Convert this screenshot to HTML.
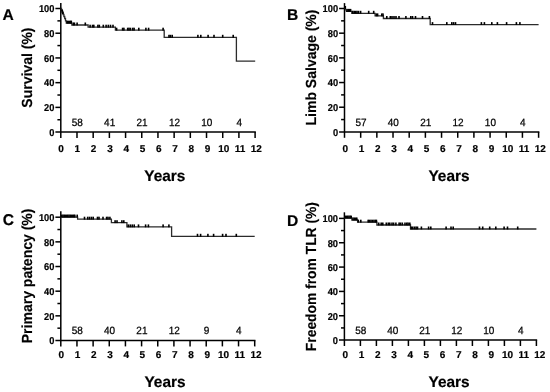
<!DOCTYPE html>
<html><head><meta charset="utf-8"><title>Kaplan-Meier curves</title>
<style>
html,body{margin:0;padding:0;background:#fff;}
body{width:550px;height:392px;overflow:hidden;}
svg{display:block;}
text{font-family:"Liberation Sans", Arial, Helvetica, sans-serif;fill:#000;text-rendering:geometricPrecision;}
.tk{font-size:10.0px;font-weight:bold;stroke:#000;stroke-width:0.2px;}
.rk{font-size:10.5px;stroke:#000;stroke-width:0.25px;}
.yl{font-size:14.6px;font-weight:bold;stroke:#000;stroke-width:0.15px;}
.yr{font-size:15.4px;font-weight:bold;stroke:#000;stroke-width:0.2px;}
.lt{font-size:15.6px;font-weight:bold;stroke:#000;stroke-width:0.2px;}
</style></head>
<body>
<svg width="550" height="392" viewBox="0 0 550 392">
<rect x="0" y="0" width="550" height="392" fill="#fff"/>
<line x1="60.80" y1="3.10" x2="60.80" y2="138.00" stroke="#000" stroke-width="1.5"/>
<line x1="55.40" y1="132.10" x2="255.85" y2="132.10" stroke="#000" stroke-width="1.5"/>
<text transform="translate(54.40,135.90) scale(0.93,1)" class="tk" text-anchor="end">0</text>
<line x1="57.40" y1="119.74" x2="60.80" y2="119.74" stroke="#000" stroke-width="1.5"/>
<line x1="55.40" y1="107.38" x2="60.80" y2="107.38" stroke="#000" stroke-width="1.5"/>
<text transform="translate(54.40,111.18) scale(0.93,1)" class="tk" text-anchor="end">20</text>
<line x1="57.40" y1="95.02" x2="60.80" y2="95.02" stroke="#000" stroke-width="1.5"/>
<line x1="55.40" y1="82.66" x2="60.80" y2="82.66" stroke="#000" stroke-width="1.5"/>
<text transform="translate(54.40,86.46) scale(0.93,1)" class="tk" text-anchor="end">40</text>
<line x1="57.40" y1="70.30" x2="60.80" y2="70.30" stroke="#000" stroke-width="1.5"/>
<line x1="55.40" y1="57.94" x2="60.80" y2="57.94" stroke="#000" stroke-width="1.5"/>
<text transform="translate(54.40,61.74) scale(0.93,1)" class="tk" text-anchor="end">60</text>
<line x1="57.40" y1="45.58" x2="60.80" y2="45.58" stroke="#000" stroke-width="1.5"/>
<line x1="55.40" y1="33.22" x2="60.80" y2="33.22" stroke="#000" stroke-width="1.5"/>
<text transform="translate(54.40,37.02) scale(0.93,1)" class="tk" text-anchor="end">80</text>
<line x1="57.40" y1="20.86" x2="60.80" y2="20.86" stroke="#000" stroke-width="1.5"/>
<line x1="55.40" y1="8.50" x2="60.80" y2="8.50" stroke="#000" stroke-width="1.5"/>
<text transform="translate(54.40,12.30) scale(0.93,1)" class="tk" text-anchor="end">100</text>
<text transform="translate(61.10,152.30) scale(1.0,1)" class="tk" text-anchor="middle">0</text>
<line x1="76.99" y1="132.10" x2="76.99" y2="138.00" stroke="#000" stroke-width="1.5"/>
<text transform="translate(77.37,152.30) scale(1.0,1)" class="tk" text-anchor="middle">1</text>
<line x1="93.18" y1="132.10" x2="93.18" y2="138.00" stroke="#000" stroke-width="1.5"/>
<text transform="translate(93.64,152.30) scale(1.0,1)" class="tk" text-anchor="middle">2</text>
<line x1="109.38" y1="132.10" x2="109.38" y2="138.00" stroke="#000" stroke-width="1.5"/>
<text transform="translate(109.91,152.30) scale(1.0,1)" class="tk" text-anchor="middle">3</text>
<line x1="125.57" y1="132.10" x2="125.57" y2="138.00" stroke="#000" stroke-width="1.5"/>
<text transform="translate(126.18,152.30) scale(1.0,1)" class="tk" text-anchor="middle">4</text>
<line x1="141.76" y1="132.10" x2="141.76" y2="138.00" stroke="#000" stroke-width="1.5"/>
<text transform="translate(142.45,152.30) scale(1.0,1)" class="tk" text-anchor="middle">5</text>
<line x1="157.95" y1="132.10" x2="157.95" y2="138.00" stroke="#000" stroke-width="1.5"/>
<text transform="translate(158.72,152.30) scale(1.0,1)" class="tk" text-anchor="middle">6</text>
<line x1="174.14" y1="132.10" x2="174.14" y2="138.00" stroke="#000" stroke-width="1.5"/>
<text transform="translate(174.99,152.30) scale(1.0,1)" class="tk" text-anchor="middle">7</text>
<line x1="190.33" y1="132.10" x2="190.33" y2="138.00" stroke="#000" stroke-width="1.5"/>
<text transform="translate(191.26,152.30) scale(1.0,1)" class="tk" text-anchor="middle">8</text>
<line x1="206.52" y1="132.10" x2="206.52" y2="138.00" stroke="#000" stroke-width="1.5"/>
<text transform="translate(207.53,152.30) scale(1.0,1)" class="tk" text-anchor="middle">9</text>
<line x1="222.72" y1="132.10" x2="222.72" y2="138.00" stroke="#000" stroke-width="1.5"/>
<text transform="translate(223.80,152.30) scale(1.0,1)" class="tk" text-anchor="middle">10</text>
<line x1="238.91" y1="132.10" x2="238.91" y2="138.00" stroke="#000" stroke-width="1.5"/>
<text transform="translate(240.07,152.30) scale(1.0,1)" class="tk" text-anchor="middle">11</text>
<line x1="255.10" y1="132.10" x2="255.10" y2="138.00" stroke="#000" stroke-width="1.5"/>
<text transform="translate(256.34,152.30) scale(1.0,1)" class="tk" text-anchor="middle">12</text>
<text transform="translate(77.29,126.25) scale(0.95,1)" class="rk" text-anchor="middle">58</text>
<text transform="translate(109.67,126.25) scale(0.95,1)" class="rk" text-anchor="middle">41</text>
<text transform="translate(142.06,126.25) scale(0.95,1)" class="rk" text-anchor="middle">21</text>
<text transform="translate(174.44,126.25) scale(0.95,1)" class="rk" text-anchor="middle">12</text>
<text transform="translate(206.82,126.25) scale(0.95,1)" class="rk" text-anchor="middle">10</text>
<text transform="translate(239.21,126.25) scale(0.95,1)" class="rk" text-anchor="middle">4</text>
<text x="2.60" y="19.90" class="lt">A</text>
<text transform="translate(32.00,67.60) rotate(-90) scale(0.96,1)" class="yl" text-anchor="middle">Survival (%)</text>
<text x="164.80" y="181.00" class="yr" text-anchor="middle">Years</text>
<path d="M60.80,8.50 L61.50,8.50 L61.50,10.30 L62.30,10.30 L62.30,12.40 L63.10,12.40 L63.10,14.50 L63.90,14.50 L63.90,16.50 L64.70,16.50 L64.70,18.50 L65.50,18.50 L65.50,20.80 L66.30,20.80 L66.30,23.20 L66.30,23.20 L71.90,23.20 L71.90,25.00 L88.10,25.00 L88.10,27.20 L115.40,27.20 L115.40,30.20 L164.20,30.20 L164.20,37.30 L236.40,37.30 L236.40,61.10 L255.20,61.10" fill="none" stroke="#2b2b2b" stroke-width="1.3" stroke-linejoin="miter"/>
<line x1="61.9" y1="9.6" x2="63.0" y2="14.0" stroke="#000" stroke-width="1.9"/>
<rect x="66.40" y="20.70" width="1.6" height="2.90" fill="#000"/>
<rect x="67.60" y="20.70" width="1.6" height="2.90" fill="#000"/>
<rect x="68.80" y="20.70" width="1.6" height="2.90" fill="#000"/>
<rect x="70.00" y="20.70" width="1.6" height="2.90" fill="#000"/>
<rect x="70.50" y="20.70" width="1.6" height="2.90" fill="#000"/>
<rect x="72.60" y="22.50" width="1.6" height="2.90" fill="#000"/>
<rect x="73.60" y="22.50" width="1.6" height="2.90" fill="#000"/>
<rect x="76.30" y="22.50" width="1.6" height="2.90" fill="#000"/>
<rect x="84.50" y="22.50" width="1.6" height="2.90" fill="#000"/>
<rect x="89.30" y="24.70" width="1.6" height="2.90" fill="#000"/>
<rect x="91.70" y="24.70" width="1.6" height="2.90" fill="#000"/>
<rect x="93.00" y="24.70" width="1.6" height="2.90" fill="#000"/>
<rect x="97.10" y="24.70" width="1.6" height="2.90" fill="#000"/>
<rect x="98.50" y="24.70" width="1.6" height="2.90" fill="#000"/>
<rect x="102.50" y="24.70" width="1.6" height="2.90" fill="#000"/>
<rect x="105.30" y="24.70" width="1.6" height="2.90" fill="#000"/>
<rect x="107.50" y="24.70" width="1.6" height="2.90" fill="#000"/>
<rect x="109.70" y="24.70" width="1.6" height="2.90" fill="#000"/>
<rect x="112.20" y="24.70" width="1.6" height="2.90" fill="#000"/>
<rect x="115.80" y="27.70" width="1.6" height="2.90" fill="#000"/>
<rect x="121.80" y="27.70" width="1.6" height="2.90" fill="#000"/>
<rect x="123.10" y="27.70" width="1.6" height="2.90" fill="#000"/>
<rect x="126.90" y="27.70" width="1.6" height="2.90" fill="#000"/>
<rect x="128.20" y="27.70" width="1.6" height="2.90" fill="#000"/>
<rect x="129.60" y="27.70" width="1.6" height="2.90" fill="#000"/>
<rect x="131.90" y="27.70" width="1.6" height="2.90" fill="#000"/>
<rect x="133.30" y="27.70" width="1.6" height="2.90" fill="#000"/>
<rect x="138.00" y="27.70" width="1.6" height="2.90" fill="#000"/>
<rect x="145.10" y="27.70" width="1.6" height="2.90" fill="#000"/>
<rect x="147.80" y="27.70" width="1.6" height="2.90" fill="#000"/>
<rect x="162.30" y="27.70" width="1.6" height="2.90" fill="#000"/>
<rect x="168.20" y="34.80" width="1.6" height="2.90" fill="#000"/>
<rect x="169.60" y="34.80" width="1.6" height="2.90" fill="#000"/>
<rect x="171.40" y="34.80" width="1.6" height="2.90" fill="#000"/>
<rect x="197.10" y="34.80" width="1.6" height="2.90" fill="#000"/>
<rect x="200.00" y="34.80" width="1.6" height="2.90" fill="#000"/>
<rect x="207.30" y="34.80" width="1.6" height="2.90" fill="#000"/>
<rect x="213.20" y="34.80" width="1.6" height="2.90" fill="#000"/>
<rect x="221.90" y="34.80" width="1.6" height="2.90" fill="#000"/>
<rect x="232.40" y="34.80" width="1.6" height="2.90" fill="#000"/>
<line x1="344.50" y1="3.10" x2="344.50" y2="137.80" stroke="#000" stroke-width="1.5"/>
<line x1="339.10" y1="131.90" x2="539.35" y2="131.90" stroke="#000" stroke-width="1.5"/>
<text transform="translate(338.10,135.70) scale(0.93,1)" class="tk" text-anchor="end">0</text>
<line x1="341.10" y1="119.56" x2="344.50" y2="119.56" stroke="#000" stroke-width="1.5"/>
<line x1="339.10" y1="107.22" x2="344.50" y2="107.22" stroke="#000" stroke-width="1.5"/>
<text transform="translate(338.10,111.02) scale(0.93,1)" class="tk" text-anchor="end">20</text>
<line x1="341.10" y1="94.88" x2="344.50" y2="94.88" stroke="#000" stroke-width="1.5"/>
<line x1="339.10" y1="82.54" x2="344.50" y2="82.54" stroke="#000" stroke-width="1.5"/>
<text transform="translate(338.10,86.34) scale(0.93,1)" class="tk" text-anchor="end">40</text>
<line x1="341.10" y1="70.20" x2="344.50" y2="70.20" stroke="#000" stroke-width="1.5"/>
<line x1="339.10" y1="57.86" x2="344.50" y2="57.86" stroke="#000" stroke-width="1.5"/>
<text transform="translate(338.10,61.66) scale(0.93,1)" class="tk" text-anchor="end">60</text>
<line x1="341.10" y1="45.52" x2="344.50" y2="45.52" stroke="#000" stroke-width="1.5"/>
<line x1="339.10" y1="33.18" x2="344.50" y2="33.18" stroke="#000" stroke-width="1.5"/>
<text transform="translate(338.10,36.98) scale(0.93,1)" class="tk" text-anchor="end">80</text>
<line x1="341.10" y1="20.84" x2="344.50" y2="20.84" stroke="#000" stroke-width="1.5"/>
<line x1="339.10" y1="8.50" x2="344.50" y2="8.50" stroke="#000" stroke-width="1.5"/>
<text transform="translate(338.10,12.30) scale(0.93,1)" class="tk" text-anchor="end">100</text>
<text transform="translate(345.35,152.30) scale(1.0,1)" class="tk" text-anchor="middle">0</text>
<line x1="360.68" y1="131.90" x2="360.68" y2="137.80" stroke="#000" stroke-width="1.5"/>
<text transform="translate(361.59,152.30) scale(1.0,1)" class="tk" text-anchor="middle">1</text>
<line x1="376.85" y1="131.90" x2="376.85" y2="137.80" stroke="#000" stroke-width="1.5"/>
<text transform="translate(377.83,152.30) scale(1.0,1)" class="tk" text-anchor="middle">2</text>
<line x1="393.02" y1="131.90" x2="393.02" y2="137.80" stroke="#000" stroke-width="1.5"/>
<text transform="translate(394.07,152.30) scale(1.0,1)" class="tk" text-anchor="middle">3</text>
<line x1="409.20" y1="131.90" x2="409.20" y2="137.80" stroke="#000" stroke-width="1.5"/>
<text transform="translate(410.31,152.30) scale(1.0,1)" class="tk" text-anchor="middle">4</text>
<line x1="425.38" y1="131.90" x2="425.38" y2="137.80" stroke="#000" stroke-width="1.5"/>
<text transform="translate(426.55,152.30) scale(1.0,1)" class="tk" text-anchor="middle">5</text>
<line x1="441.55" y1="131.90" x2="441.55" y2="137.80" stroke="#000" stroke-width="1.5"/>
<text transform="translate(442.79,152.30) scale(1.0,1)" class="tk" text-anchor="middle">6</text>
<line x1="457.73" y1="131.90" x2="457.73" y2="137.80" stroke="#000" stroke-width="1.5"/>
<text transform="translate(459.03,152.30) scale(1.0,1)" class="tk" text-anchor="middle">7</text>
<line x1="473.90" y1="131.90" x2="473.90" y2="137.80" stroke="#000" stroke-width="1.5"/>
<text transform="translate(475.27,152.30) scale(1.0,1)" class="tk" text-anchor="middle">8</text>
<line x1="490.08" y1="131.90" x2="490.08" y2="137.80" stroke="#000" stroke-width="1.5"/>
<text transform="translate(491.51,152.30) scale(1.0,1)" class="tk" text-anchor="middle">9</text>
<line x1="506.25" y1="131.90" x2="506.25" y2="137.80" stroke="#000" stroke-width="1.5"/>
<text transform="translate(507.75,152.30) scale(1.0,1)" class="tk" text-anchor="middle">10</text>
<line x1="522.42" y1="131.90" x2="522.42" y2="137.80" stroke="#000" stroke-width="1.5"/>
<text transform="translate(523.99,152.30) scale(1.0,1)" class="tk" text-anchor="middle">11</text>
<line x1="538.60" y1="131.90" x2="538.60" y2="137.80" stroke="#000" stroke-width="1.5"/>
<text transform="translate(540.23,152.30) scale(1.0,1)" class="tk" text-anchor="middle">12</text>
<text transform="translate(360.98,126.25) scale(0.95,1)" class="rk" text-anchor="middle">57</text>
<text transform="translate(393.32,126.25) scale(0.95,1)" class="rk" text-anchor="middle">40</text>
<text transform="translate(425.68,126.25) scale(0.95,1)" class="rk" text-anchor="middle">21</text>
<text transform="translate(458.03,126.25) scale(0.95,1)" class="rk" text-anchor="middle">12</text>
<text transform="translate(490.38,126.25) scale(0.95,1)" class="rk" text-anchor="middle">10</text>
<text transform="translate(522.72,126.25) scale(0.95,1)" class="rk" text-anchor="middle">4</text>
<text x="287.00" y="19.60" class="lt">B</text>
<text transform="translate(316.00,67.50) rotate(-90) scale(0.96,1)" class="yl" text-anchor="middle">Limb Salvage (%)</text>
<text x="449.00" y="181.00" class="yr" text-anchor="middle">Years</text>
<path d="M344.50,8.50 L345.40,8.50 L346.00,10.40 L346.40,11.40 L346.40,11.40 L351.80,11.40 L351.80,13.30 L375.10,13.30 L375.10,15.90 L383.40,15.90 L383.40,18.50 L430.20,18.50 L430.20,24.60 L538.60,24.60" fill="none" stroke="#2b2b2b" stroke-width="1.3" stroke-linejoin="miter"/>
<rect x="344.7" y="6.0" width="1.4" height="2.9" fill="#000"/>
<rect x="346.20" y="8.90" width="1.6" height="2.90" fill="#000"/>
<rect x="347.40" y="8.90" width="1.6" height="2.90" fill="#000"/>
<rect x="348.60" y="8.90" width="1.6" height="2.90" fill="#000"/>
<rect x="349.80" y="8.90" width="1.6" height="2.90" fill="#000"/>
<rect x="352.00" y="10.80" width="1.6" height="2.90" fill="#000"/>
<rect x="353.40" y="10.80" width="1.6" height="2.90" fill="#000"/>
<rect x="354.80" y="10.80" width="1.6" height="2.90" fill="#000"/>
<rect x="356.20" y="10.80" width="1.6" height="2.90" fill="#000"/>
<rect x="357.70" y="10.80" width="1.6" height="2.90" fill="#000"/>
<rect x="359.80" y="10.80" width="1.6" height="2.90" fill="#000"/>
<rect x="367.90" y="10.80" width="1.6" height="2.90" fill="#000"/>
<rect x="372.90" y="10.80" width="1.6" height="2.90" fill="#000"/>
<rect x="375.60" y="13.40" width="1.6" height="2.90" fill="#000"/>
<rect x="376.80" y="13.40" width="1.6" height="2.90" fill="#000"/>
<rect x="381.00" y="13.40" width="1.6" height="2.90" fill="#000"/>
<rect x="382.20" y="13.40" width="1.6" height="2.90" fill="#000"/>
<rect x="386.00" y="16.00" width="1.6" height="2.90" fill="#000"/>
<rect x="389.50" y="16.00" width="1.6" height="2.90" fill="#000"/>
<rect x="391.20" y="16.00" width="1.6" height="2.90" fill="#000"/>
<rect x="393.20" y="16.00" width="1.6" height="2.90" fill="#000"/>
<rect x="395.20" y="16.00" width="1.6" height="2.90" fill="#000"/>
<rect x="398.20" y="16.00" width="1.6" height="2.90" fill="#000"/>
<rect x="405.10" y="16.00" width="1.6" height="2.90" fill="#000"/>
<rect x="410.00" y="16.00" width="1.6" height="2.90" fill="#000"/>
<rect x="411.70" y="16.00" width="1.6" height="2.90" fill="#000"/>
<rect x="414.70" y="16.00" width="1.6" height="2.90" fill="#000"/>
<rect x="421.70" y="16.00" width="1.6" height="2.90" fill="#000"/>
<rect x="428.60" y="16.00" width="1.6" height="2.90" fill="#000"/>
<rect x="431.70" y="22.10" width="1.6" height="2.90" fill="#000"/>
<rect x="446.00" y="22.10" width="1.6" height="2.90" fill="#000"/>
<rect x="451.00" y="22.10" width="1.6" height="2.90" fill="#000"/>
<rect x="452.80" y="22.10" width="1.6" height="2.90" fill="#000"/>
<rect x="454.70" y="22.10" width="1.6" height="2.90" fill="#000"/>
<rect x="480.60" y="22.10" width="1.6" height="2.90" fill="#000"/>
<rect x="483.60" y="22.10" width="1.6" height="2.90" fill="#000"/>
<rect x="491.00" y="22.10" width="1.6" height="2.90" fill="#000"/>
<rect x="496.60" y="22.10" width="1.6" height="2.90" fill="#000"/>
<rect x="505.80" y="22.10" width="1.6" height="2.90" fill="#000"/>
<rect x="515.60" y="22.10" width="1.6" height="2.90" fill="#000"/>
<rect x="519.10" y="22.10" width="1.6" height="2.90" fill="#000"/>
<line x1="60.80" y1="211.30" x2="60.80" y2="346.40" stroke="#000" stroke-width="1.5"/>
<line x1="55.40" y1="340.50" x2="255.45" y2="340.50" stroke="#000" stroke-width="1.5"/>
<text transform="translate(54.40,344.30) scale(0.93,1)" class="tk" text-anchor="end">0</text>
<line x1="57.40" y1="328.17" x2="60.80" y2="328.17" stroke="#000" stroke-width="1.5"/>
<line x1="55.40" y1="315.84" x2="60.80" y2="315.84" stroke="#000" stroke-width="1.5"/>
<text transform="translate(54.40,319.64) scale(0.93,1)" class="tk" text-anchor="end">20</text>
<line x1="57.40" y1="303.51" x2="60.80" y2="303.51" stroke="#000" stroke-width="1.5"/>
<line x1="55.40" y1="291.18" x2="60.80" y2="291.18" stroke="#000" stroke-width="1.5"/>
<text transform="translate(54.40,294.98) scale(0.93,1)" class="tk" text-anchor="end">40</text>
<line x1="57.40" y1="278.85" x2="60.80" y2="278.85" stroke="#000" stroke-width="1.5"/>
<line x1="55.40" y1="266.52" x2="60.80" y2="266.52" stroke="#000" stroke-width="1.5"/>
<text transform="translate(54.40,270.32) scale(0.93,1)" class="tk" text-anchor="end">60</text>
<line x1="57.40" y1="254.19" x2="60.80" y2="254.19" stroke="#000" stroke-width="1.5"/>
<line x1="55.40" y1="241.86" x2="60.80" y2="241.86" stroke="#000" stroke-width="1.5"/>
<text transform="translate(54.40,245.66) scale(0.93,1)" class="tk" text-anchor="end">80</text>
<line x1="57.40" y1="229.53" x2="60.80" y2="229.53" stroke="#000" stroke-width="1.5"/>
<line x1="55.40" y1="217.20" x2="60.80" y2="217.20" stroke="#000" stroke-width="1.5"/>
<text transform="translate(54.40,221.00) scale(0.93,1)" class="tk" text-anchor="end">100</text>
<text transform="translate(61.30,358.00) scale(1.0,1)" class="tk" text-anchor="middle">0</text>
<line x1="76.96" y1="340.50" x2="76.96" y2="346.40" stroke="#000" stroke-width="1.5"/>
<text transform="translate(77.52,358.00) scale(1.0,1)" class="tk" text-anchor="middle">1</text>
<line x1="93.12" y1="340.50" x2="93.12" y2="346.40" stroke="#000" stroke-width="1.5"/>
<text transform="translate(93.74,358.00) scale(1.0,1)" class="tk" text-anchor="middle">2</text>
<line x1="109.27" y1="340.50" x2="109.27" y2="346.40" stroke="#000" stroke-width="1.5"/>
<text transform="translate(109.96,358.00) scale(1.0,1)" class="tk" text-anchor="middle">3</text>
<line x1="125.43" y1="340.50" x2="125.43" y2="346.40" stroke="#000" stroke-width="1.5"/>
<text transform="translate(126.18,358.00) scale(1.0,1)" class="tk" text-anchor="middle">4</text>
<line x1="141.59" y1="340.50" x2="141.59" y2="346.40" stroke="#000" stroke-width="1.5"/>
<text transform="translate(142.40,358.00) scale(1.0,1)" class="tk" text-anchor="middle">5</text>
<line x1="157.75" y1="340.50" x2="157.75" y2="346.40" stroke="#000" stroke-width="1.5"/>
<text transform="translate(158.62,358.00) scale(1.0,1)" class="tk" text-anchor="middle">6</text>
<line x1="173.91" y1="340.50" x2="173.91" y2="346.40" stroke="#000" stroke-width="1.5"/>
<text transform="translate(174.84,358.00) scale(1.0,1)" class="tk" text-anchor="middle">7</text>
<line x1="190.07" y1="340.50" x2="190.07" y2="346.40" stroke="#000" stroke-width="1.5"/>
<text transform="translate(191.06,358.00) scale(1.0,1)" class="tk" text-anchor="middle">8</text>
<line x1="206.22" y1="340.50" x2="206.22" y2="346.40" stroke="#000" stroke-width="1.5"/>
<text transform="translate(207.28,358.00) scale(1.0,1)" class="tk" text-anchor="middle">9</text>
<line x1="222.38" y1="340.50" x2="222.38" y2="346.40" stroke="#000" stroke-width="1.5"/>
<text transform="translate(223.50,358.00) scale(1.0,1)" class="tk" text-anchor="middle">10</text>
<line x1="238.54" y1="340.50" x2="238.54" y2="346.40" stroke="#000" stroke-width="1.5"/>
<text transform="translate(239.72,358.00) scale(1.0,1)" class="tk" text-anchor="middle">11</text>
<line x1="254.70" y1="340.50" x2="254.70" y2="346.40" stroke="#000" stroke-width="1.5"/>
<text transform="translate(255.94,358.00) scale(1.0,1)" class="tk" text-anchor="middle">12</text>
<text transform="translate(77.26,334.15) scale(0.95,1)" class="rk" text-anchor="middle">58</text>
<text transform="translate(109.57,334.15) scale(0.95,1)" class="rk" text-anchor="middle">40</text>
<text transform="translate(141.89,334.15) scale(0.95,1)" class="rk" text-anchor="middle">21</text>
<text transform="translate(174.21,334.15) scale(0.95,1)" class="rk" text-anchor="middle">12</text>
<text transform="translate(206.52,334.15) scale(0.95,1)" class="rk" text-anchor="middle">9</text>
<text transform="translate(238.84,334.15) scale(0.95,1)" class="rk" text-anchor="middle">4</text>
<text x="2.70" y="225.20" class="lt">C</text>
<text transform="translate(31.70,275.90) rotate(-90) scale(0.96,1)" class="yl" text-anchor="middle">Primary patency (%)</text>
<text x="165.00" y="387.10" class="yr" text-anchor="middle">Years</text>
<path d="M60.80,217.10 L77.60,217.10 L77.60,219.20 L111.40,219.20 L111.40,222.70 L126.90,222.70 L126.90,226.90 L171.60,226.90 L171.60,236.30 L254.70,236.30" fill="none" stroke="#2b2b2b" stroke-width="1.3" stroke-linejoin="miter"/>
<rect x="61.00" y="214.60" width="1.6" height="2.90" fill="#000"/>
<rect x="62.20" y="214.60" width="1.6" height="2.90" fill="#000"/>
<rect x="63.40" y="214.60" width="1.6" height="2.90" fill="#000"/>
<rect x="64.60" y="214.60" width="1.6" height="2.90" fill="#000"/>
<rect x="65.80" y="214.60" width="1.6" height="2.90" fill="#000"/>
<rect x="67.00" y="214.60" width="1.6" height="2.90" fill="#000"/>
<rect x="68.20" y="214.60" width="1.6" height="2.90" fill="#000"/>
<rect x="69.40" y="214.60" width="1.6" height="2.90" fill="#000"/>
<rect x="70.60" y="214.60" width="1.6" height="2.90" fill="#000"/>
<rect x="71.80" y="214.60" width="1.6" height="2.90" fill="#000"/>
<rect x="73.00" y="214.60" width="1.6" height="2.90" fill="#000"/>
<rect x="74.00" y="214.60" width="1.6" height="2.90" fill="#000"/>
<rect x="76.40" y="214.60" width="1.6" height="2.90" fill="#000"/>
<rect x="83.70" y="216.70" width="1.6" height="2.90" fill="#000"/>
<rect x="86.90" y="216.70" width="1.6" height="2.90" fill="#000"/>
<rect x="88.70" y="216.70" width="1.6" height="2.90" fill="#000"/>
<rect x="90.60" y="216.70" width="1.6" height="2.90" fill="#000"/>
<rect x="92.40" y="216.70" width="1.6" height="2.90" fill="#000"/>
<rect x="96.70" y="216.70" width="1.6" height="2.90" fill="#000"/>
<rect x="98.20" y="216.70" width="1.6" height="2.90" fill="#000"/>
<rect x="102.20" y="216.70" width="1.6" height="2.90" fill="#000"/>
<rect x="105.80" y="216.70" width="1.6" height="2.90" fill="#000"/>
<rect x="107.20" y="216.70" width="1.6" height="2.90" fill="#000"/>
<rect x="109.10" y="216.70" width="1.6" height="2.90" fill="#000"/>
<rect x="114.30" y="220.20" width="1.6" height="2.90" fill="#000"/>
<rect x="116.20" y="220.20" width="1.6" height="2.90" fill="#000"/>
<rect x="121.10" y="220.20" width="1.6" height="2.90" fill="#000"/>
<rect x="123.00" y="220.20" width="1.6" height="2.90" fill="#000"/>
<rect x="127.40" y="224.40" width="1.6" height="2.90" fill="#000"/>
<rect x="129.40" y="224.40" width="1.6" height="2.90" fill="#000"/>
<rect x="131.40" y="224.40" width="1.6" height="2.90" fill="#000"/>
<rect x="133.40" y="224.40" width="1.6" height="2.90" fill="#000"/>
<rect x="137.70" y="224.40" width="1.6" height="2.90" fill="#000"/>
<rect x="144.80" y="224.40" width="1.6" height="2.90" fill="#000"/>
<rect x="147.60" y="224.40" width="1.6" height="2.90" fill="#000"/>
<rect x="162.30" y="224.40" width="1.6" height="2.90" fill="#000"/>
<rect x="168.10" y="224.40" width="1.6" height="2.90" fill="#000"/>
<rect x="196.70" y="233.80" width="1.6" height="2.90" fill="#000"/>
<rect x="199.80" y="233.80" width="1.6" height="2.90" fill="#000"/>
<rect x="207.10" y="233.80" width="1.6" height="2.90" fill="#000"/>
<rect x="212.80" y="233.80" width="1.6" height="2.90" fill="#000"/>
<rect x="221.80" y="233.80" width="1.6" height="2.90" fill="#000"/>
<rect x="225.20" y="233.80" width="1.6" height="2.90" fill="#000"/>
<rect x="235.50" y="233.80" width="1.6" height="2.90" fill="#000"/>
<line x1="344.40" y1="212.30" x2="344.40" y2="346.00" stroke="#000" stroke-width="1.5"/>
<line x1="339.00" y1="340.10" x2="537.15" y2="340.10" stroke="#000" stroke-width="1.5"/>
<text transform="translate(338.00,343.90) scale(0.93,1)" class="tk" text-anchor="end">0</text>
<line x1="341.00" y1="327.93" x2="344.40" y2="327.93" stroke="#000" stroke-width="1.5"/>
<line x1="339.00" y1="315.76" x2="344.40" y2="315.76" stroke="#000" stroke-width="1.5"/>
<text transform="translate(338.00,319.56) scale(0.93,1)" class="tk" text-anchor="end">20</text>
<line x1="341.00" y1="303.59" x2="344.40" y2="303.59" stroke="#000" stroke-width="1.5"/>
<line x1="339.00" y1="291.42" x2="344.40" y2="291.42" stroke="#000" stroke-width="1.5"/>
<text transform="translate(338.00,295.22) scale(0.93,1)" class="tk" text-anchor="end">40</text>
<line x1="341.00" y1="279.25" x2="344.40" y2="279.25" stroke="#000" stroke-width="1.5"/>
<line x1="339.00" y1="267.08" x2="344.40" y2="267.08" stroke="#000" stroke-width="1.5"/>
<text transform="translate(338.00,270.88) scale(0.93,1)" class="tk" text-anchor="end">60</text>
<line x1="341.00" y1="254.91" x2="344.40" y2="254.91" stroke="#000" stroke-width="1.5"/>
<line x1="339.00" y1="242.74" x2="344.40" y2="242.74" stroke="#000" stroke-width="1.5"/>
<text transform="translate(338.00,246.54) scale(0.93,1)" class="tk" text-anchor="end">80</text>
<line x1="341.00" y1="230.57" x2="344.40" y2="230.57" stroke="#000" stroke-width="1.5"/>
<line x1="339.00" y1="218.40" x2="344.40" y2="218.40" stroke="#000" stroke-width="1.5"/>
<text transform="translate(338.00,222.20) scale(0.93,1)" class="tk" text-anchor="end">100</text>
<text transform="translate(345.35,357.90) scale(1.0,1)" class="tk" text-anchor="middle">0</text>
<line x1="360.40" y1="340.10" x2="360.40" y2="346.00" stroke="#000" stroke-width="1.5"/>
<text transform="translate(361.56,357.90) scale(1.0,1)" class="tk" text-anchor="middle">1</text>
<line x1="376.40" y1="340.10" x2="376.40" y2="346.00" stroke="#000" stroke-width="1.5"/>
<text transform="translate(377.77,357.90) scale(1.0,1)" class="tk" text-anchor="middle">2</text>
<line x1="392.40" y1="340.10" x2="392.40" y2="346.00" stroke="#000" stroke-width="1.5"/>
<text transform="translate(393.98,357.90) scale(1.0,1)" class="tk" text-anchor="middle">3</text>
<line x1="408.40" y1="340.10" x2="408.40" y2="346.00" stroke="#000" stroke-width="1.5"/>
<text transform="translate(410.19,357.90) scale(1.0,1)" class="tk" text-anchor="middle">4</text>
<line x1="424.40" y1="340.10" x2="424.40" y2="346.00" stroke="#000" stroke-width="1.5"/>
<text transform="translate(426.40,357.90) scale(1.0,1)" class="tk" text-anchor="middle">5</text>
<line x1="440.40" y1="340.10" x2="440.40" y2="346.00" stroke="#000" stroke-width="1.5"/>
<text transform="translate(442.61,357.90) scale(1.0,1)" class="tk" text-anchor="middle">6</text>
<line x1="456.40" y1="340.10" x2="456.40" y2="346.00" stroke="#000" stroke-width="1.5"/>
<text transform="translate(458.82,357.90) scale(1.0,1)" class="tk" text-anchor="middle">7</text>
<line x1="472.40" y1="340.10" x2="472.40" y2="346.00" stroke="#000" stroke-width="1.5"/>
<text transform="translate(475.03,357.90) scale(1.0,1)" class="tk" text-anchor="middle">8</text>
<line x1="488.40" y1="340.10" x2="488.40" y2="346.00" stroke="#000" stroke-width="1.5"/>
<text transform="translate(491.24,357.90) scale(1.0,1)" class="tk" text-anchor="middle">9</text>
<line x1="504.40" y1="340.10" x2="504.40" y2="346.00" stroke="#000" stroke-width="1.5"/>
<text transform="translate(507.45,357.90) scale(1.0,1)" class="tk" text-anchor="middle">10</text>
<line x1="520.40" y1="340.10" x2="520.40" y2="346.00" stroke="#000" stroke-width="1.5"/>
<text transform="translate(523.66,357.90) scale(1.0,1)" class="tk" text-anchor="middle">11</text>
<line x1="536.40" y1="340.10" x2="536.40" y2="346.00" stroke="#000" stroke-width="1.5"/>
<text transform="translate(539.87,357.90) scale(1.0,1)" class="tk" text-anchor="middle">12</text>
<text transform="translate(360.70,333.95) scale(0.95,1)" class="rk" text-anchor="middle">58</text>
<text transform="translate(392.70,333.95) scale(0.95,1)" class="rk" text-anchor="middle">40</text>
<text transform="translate(424.70,333.95) scale(0.95,1)" class="rk" text-anchor="middle">21</text>
<text transform="translate(456.70,333.95) scale(0.95,1)" class="rk" text-anchor="middle">12</text>
<text transform="translate(488.70,333.95) scale(0.95,1)" class="rk" text-anchor="middle">10</text>
<text transform="translate(520.70,333.95) scale(0.95,1)" class="rk" text-anchor="middle">4</text>
<text x="287.00" y="225.80" class="lt">D</text>
<text transform="translate(316.20,276.60) rotate(-90) scale(0.948,1)" class="yl" text-anchor="middle">Freedom from TLR (%)</text>
<text x="449.10" y="386.90" class="yr" text-anchor="middle">Years</text>
<path d="M344.40,218.10 L351.90,218.10 L351.90,220.00 L357.60,220.00 L357.60,222.20 L376.90,222.20 L376.90,225.00 L410.50,225.00 L410.50,229.00 L536.40,229.00" fill="none" stroke="#2b2b2b" stroke-width="1.3" stroke-linejoin="miter"/>
<rect x="344.60" y="215.60" width="1.6" height="2.90" fill="#000"/>
<rect x="345.80" y="215.60" width="1.6" height="2.90" fill="#000"/>
<rect x="347.00" y="215.60" width="1.6" height="2.90" fill="#000"/>
<rect x="348.20" y="215.60" width="1.6" height="2.90" fill="#000"/>
<rect x="349.40" y="215.60" width="1.6" height="2.90" fill="#000"/>
<rect x="350.40" y="215.60" width="1.6" height="2.90" fill="#000"/>
<rect x="352.20" y="217.50" width="1.6" height="2.90" fill="#000"/>
<rect x="353.50" y="217.50" width="1.6" height="2.90" fill="#000"/>
<rect x="354.80" y="217.50" width="1.6" height="2.90" fill="#000"/>
<rect x="356.00" y="217.50" width="1.6" height="2.90" fill="#000"/>
<rect x="357.50" y="219.70" width="1.6" height="2.90" fill="#000"/>
<rect x="360.00" y="219.70" width="1.6" height="2.90" fill="#000"/>
<rect x="367.40" y="219.70" width="1.6" height="2.90" fill="#000"/>
<rect x="368.70" y="219.70" width="1.6" height="2.90" fill="#000"/>
<rect x="370.20" y="219.70" width="1.6" height="2.90" fill="#000"/>
<rect x="371.70" y="219.70" width="1.6" height="2.90" fill="#000"/>
<rect x="373.20" y="219.70" width="1.6" height="2.90" fill="#000"/>
<rect x="374.70" y="219.70" width="1.6" height="2.90" fill="#000"/>
<rect x="375.60" y="219.70" width="1.6" height="2.90" fill="#000"/>
<rect x="377.90" y="222.50" width="1.6" height="2.90" fill="#000"/>
<rect x="380.40" y="222.50" width="1.6" height="2.90" fill="#000"/>
<rect x="382.00" y="222.50" width="1.6" height="2.90" fill="#000"/>
<rect x="385.50" y="222.50" width="1.6" height="2.90" fill="#000"/>
<rect x="387.50" y="222.50" width="1.6" height="2.90" fill="#000"/>
<rect x="389.00" y="222.50" width="1.6" height="2.90" fill="#000"/>
<rect x="391.20" y="222.50" width="1.6" height="2.90" fill="#000"/>
<rect x="392.80" y="222.50" width="1.6" height="2.90" fill="#000"/>
<rect x="395.10" y="222.50" width="1.6" height="2.90" fill="#000"/>
<rect x="398.30" y="222.50" width="1.6" height="2.90" fill="#000"/>
<rect x="399.70" y="222.50" width="1.6" height="2.90" fill="#000"/>
<rect x="401.50" y="222.50" width="1.6" height="2.90" fill="#000"/>
<rect x="404.20" y="222.50" width="1.6" height="2.90" fill="#000"/>
<rect x="406.00" y="222.50" width="1.6" height="2.90" fill="#000"/>
<rect x="407.30" y="222.50" width="1.6" height="2.90" fill="#000"/>
<rect x="409.00" y="222.50" width="1.6" height="2.90" fill="#000"/>
<rect x="410.40" y="226.50" width="1.6" height="2.90" fill="#000"/>
<rect x="411.90" y="226.50" width="1.6" height="2.90" fill="#000"/>
<rect x="413.70" y="226.50" width="1.6" height="2.90" fill="#000"/>
<rect x="415.30" y="226.50" width="1.6" height="2.90" fill="#000"/>
<rect x="416.70" y="226.50" width="1.6" height="2.90" fill="#000"/>
<rect x="420.60" y="226.50" width="1.6" height="2.90" fill="#000"/>
<rect x="427.80" y="226.50" width="1.6" height="2.90" fill="#000"/>
<rect x="430.00" y="226.50" width="1.6" height="2.90" fill="#000"/>
<rect x="445.30" y="226.50" width="1.6" height="2.90" fill="#000"/>
<rect x="450.20" y="226.50" width="1.6" height="2.90" fill="#000"/>
<rect x="452.40" y="226.50" width="1.6" height="2.90" fill="#000"/>
<rect x="478.70" y="226.50" width="1.6" height="2.90" fill="#000"/>
<rect x="481.90" y="226.50" width="1.6" height="2.90" fill="#000"/>
<rect x="488.90" y="226.50" width="1.6" height="2.90" fill="#000"/>
<rect x="495.00" y="226.50" width="1.6" height="2.90" fill="#000"/>
<rect x="503.30" y="226.50" width="1.6" height="2.90" fill="#000"/>
<rect x="506.70" y="226.50" width="1.6" height="2.90" fill="#000"/>
<rect x="516.90" y="226.50" width="1.6" height="2.90" fill="#000"/>
</svg>
</body></html>
